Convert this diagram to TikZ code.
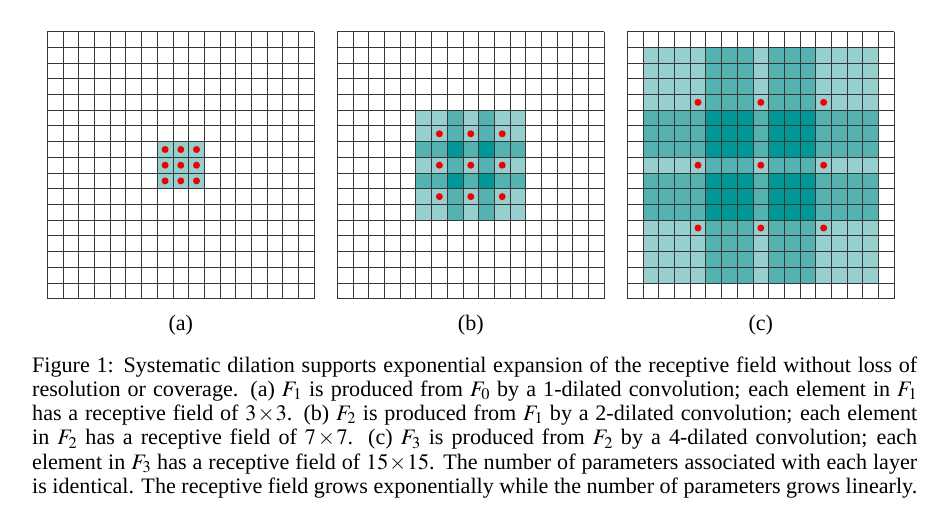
\documentclass[tikz,border=0pt]{standalone}
\usepackage{mathptmx}
\usepackage{fontspec}
\setmainfont{Liberation Serif}
\definecolor{tlight}{RGB}{151,207,207}
\definecolor{tmed}{RGB}{84,178,177}
\definecolor{tdark}{RGB}{0,151,150}
\definecolor{gridc}{RGB}{55,55,55}
\definecolor{dotred}{RGB}{240,0,0}
\newlength\capw
\newlength\tmpw
\newcommand\capmeasure[1]{\settowidth\tmpw{\fontsize{10}{12}\selectfont #1}\ifdim\tmpw>\capw\global\capw=\tmpw\fi}
\newcommand\capA{Figure 1: Systematic dilation supports exponential expansion of the receptive field without loss of}
\newcommand\capB{resolution or coverage. (a) $F_1$ is produced from $F_0$ by a 1-dilated convolution; each element in $F_1$}
\newcommand\capC{has a receptive field of $3\!\times\!3$. (b) $F_2$ is produced from $F_1$ by a 2-dilated convolution; each element}
\newcommand\capD{in $F_2$ has a receptive field of $7\!\times\!7$. (c) $F_3$ is produced from $F_2$ by a 4-dilated convolution; each}
\newcommand\capE{element in $F_3$ has a receptive field of $15\!\times\!15$. The number of parameters associated with each layer}
\newcommand\capF{is identical. The receptive field grows exponentially while the number of parameters grows linearly.}
\def\capfs{20}
\newcommand\capfont{\fontsize{\capfs}{\capfs}\selectfont}
\tikzset{
  gridline/.style={gridc, line width=0.9pt},
  reddot/.style={fill=dotred, draw=none},
  panellabel/.style={anchor=base, inner sep=0pt, font=\capfont},
  capline/.style={anchor=base west, inner sep=0pt, font=\capfont}
}
\newcommand\cs{15.706}
% #1 = x origin, #2 = dot spacing, #3 = half width of each field
\newcommand\dilpanel[3]{%
  \foreach \r in {0,...,16}{%
    \foreach \c in {0,...,16}{%
      \pgfmathtruncatemacro\nr{(abs(\r-8+#2)<=#3)+(abs(\r-8)<=#3)+(abs(\r-8-#2)<=#3)}%
      \pgfmathtruncatemacro\nc{(abs(\c-8+#2)<=#3)+(abs(\c-8)<=#3)+(abs(\c-8-#2)<=#3)}%
      \pgfmathtruncatemacro\nn{\nr*\nc}%
      \ifcase\nn\def\cc{white}\or\def\cc{tlight}\or\def\cc{tmed}\or\def\cc{tmed}\or\def\cc{tdark}\else\def\cc{tdark}\fi
      \fill[\cc] ({#1+\c*\cs},{31.7+\r*\cs}) rectangle ({#1+(\c+1)*\cs},{31.7+(\r+1)*\cs});
    }%
  }%
  \foreach \i in {0,...,17}{%
    \draw[gridline] ({#1+\i*\cs},31.7) -- ({#1+\i*\cs},{31.7+17*\cs});
    \draw[gridline] (#1,{31.7+\i*\cs}) -- ({#1+17*\cs},{31.7+\i*\cs});
  }%
  \foreach \a in {-1,0,1}{%
    \foreach \b in {-1,0,1}{%
      \fill[reddot] ({#1+(8.5+\a*#2)*\cs},{31.7+(8.5+\b*#2)*\cs}) circle (3.5);
    }%
  }%
}
\begin{document}
\capmeasure{\capA}\capmeasure{\capB}\capmeasure{\capC}\capmeasure{\capD}\capmeasure{\capE}\capmeasure{\capF}%
\pgfmathsetmacro\tmpfs{min(24,max(12,10*885/\capw))}%
\xdef\capfs{\tmpfs}%
\begin{tikzpicture}[x=1pt,y=-1pt]
\useasboundingbox[fill=white] (0,0) rectangle (941,527);
\dilpanel{47.3}{1}{0}
\dilpanel{337.3}{2}{1}
\dilpanel{627.3}{4}{3}
\node[panellabel] (la) at (180.8,330) {(a)};
\node[panellabel] (lb) at (470.8,330) {(b)};
\node[panellabel] (lc) at (760.8,330) {(c)};
\node[capline] (c1) at (32,372) {\makebox[885pt][s]{\capA}};
\node[capline] (c2) at (32,396.3) {\makebox[885pt][s]{\capB}};
\node[capline] (c3) at (32,420.6) {\makebox[885pt][s]{\capC}};
\node[capline] (c4) at (32,444.9) {\makebox[885pt][s]{\capD}};
\node[capline] (c5) at (32,469.2) {\makebox[885pt][s]{\capE}};
\node[capline] (c6) at (32,493.5) {\makebox[885pt][s]{\capF}};
\end{tikzpicture}
\end{document}
